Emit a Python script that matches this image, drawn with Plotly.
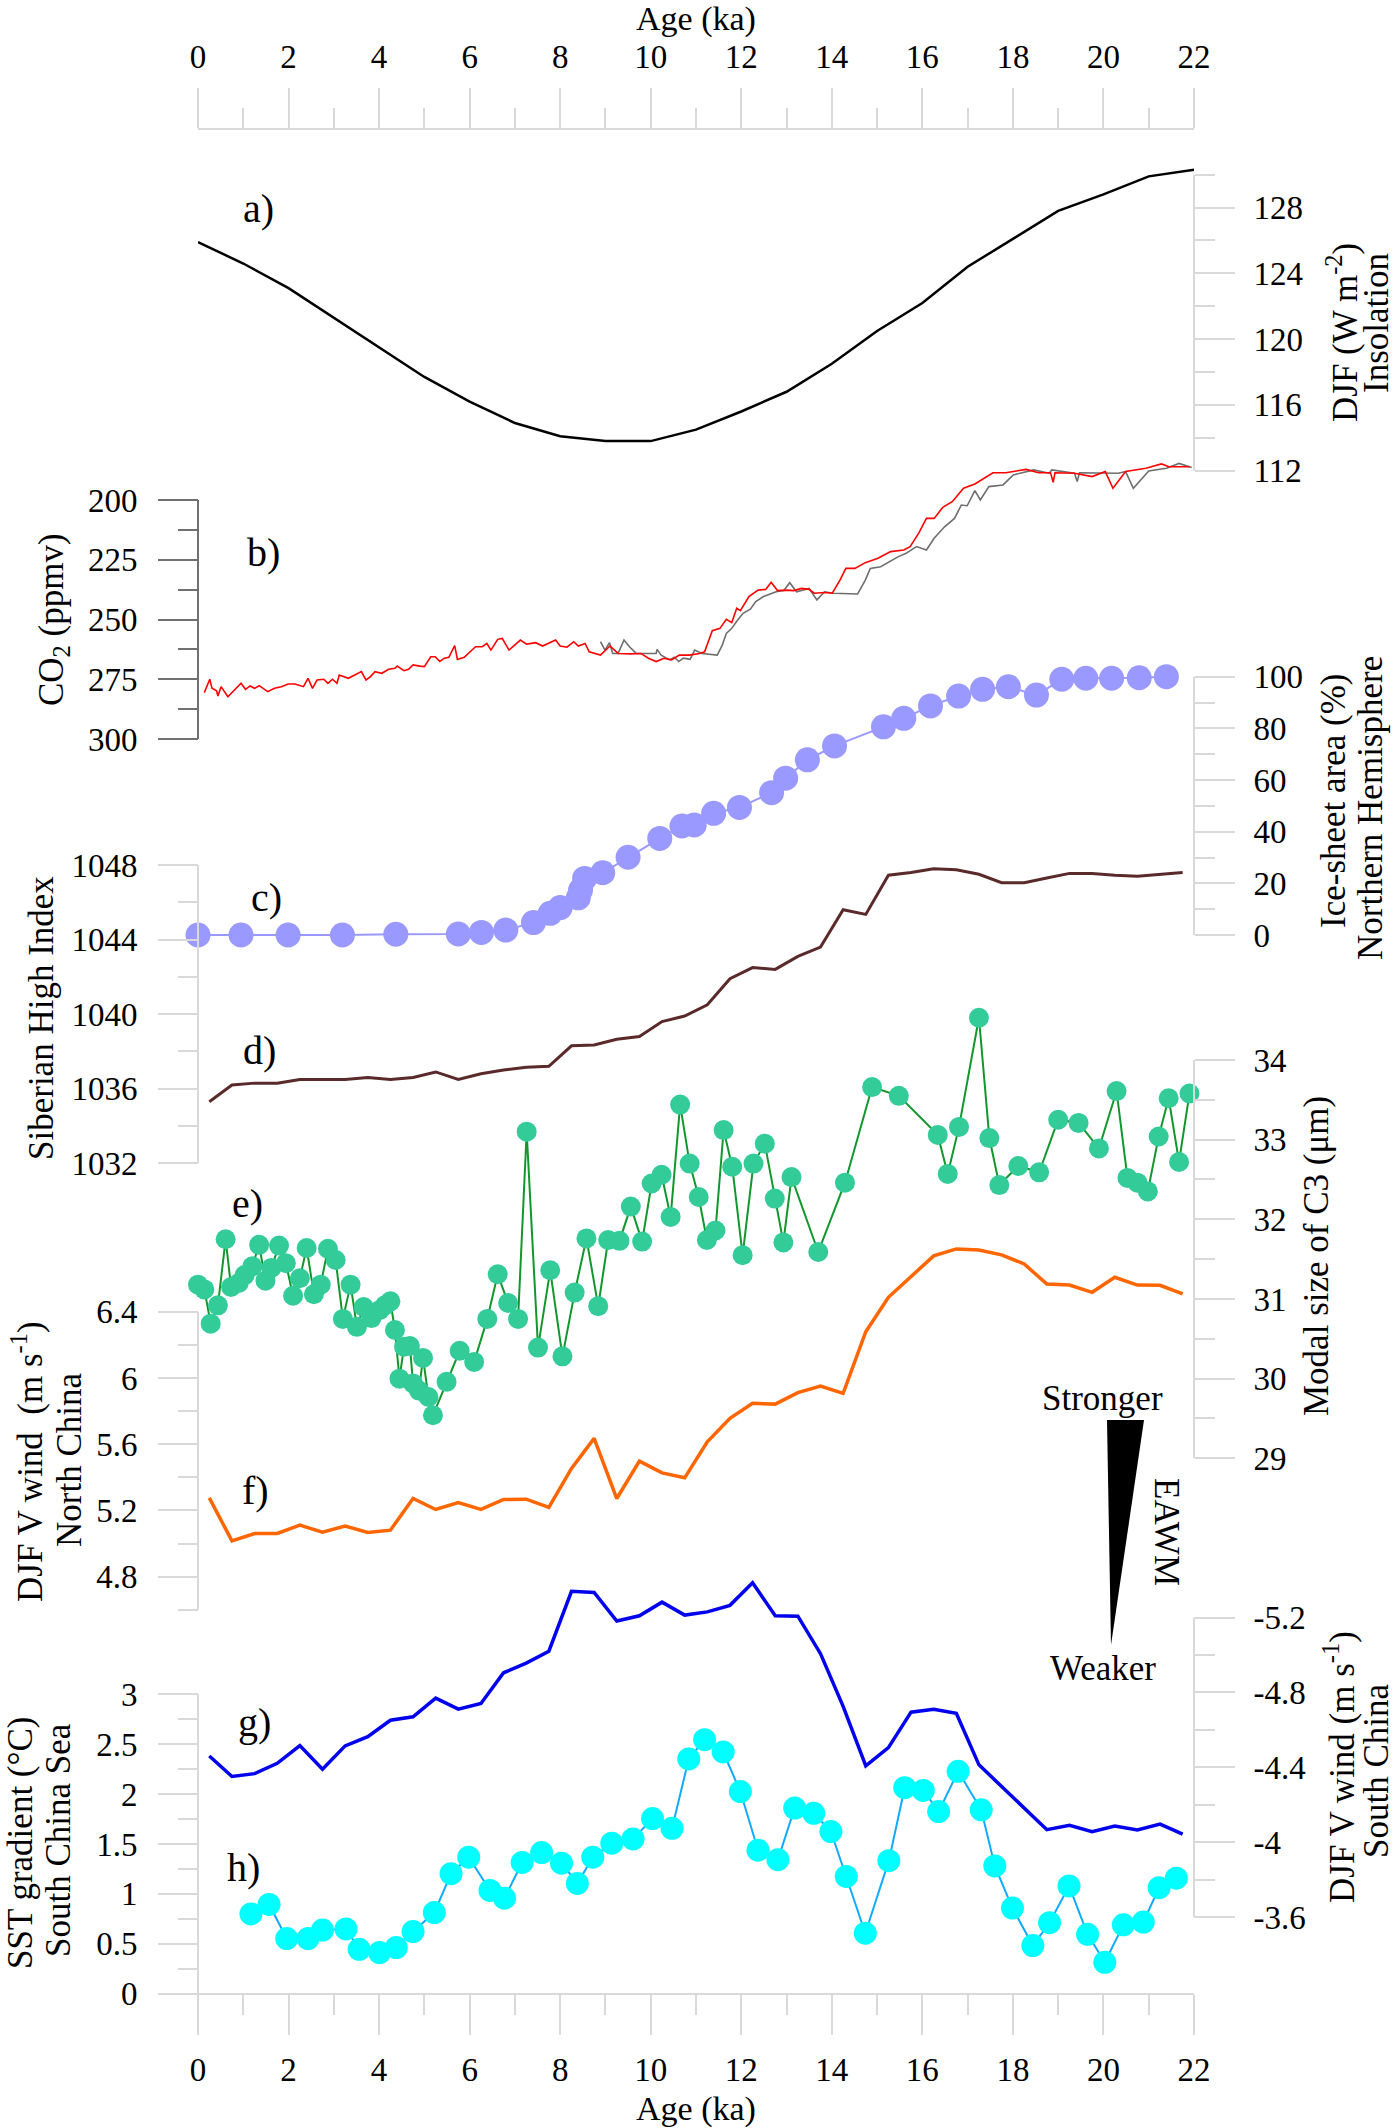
import plotly.graph_objects as go

# ---------------- data ----------------
insol_age = [0, 1, 2, 3, 4, 5, 6, 7, 8, 9, 10, 11, 12, 13, 14, 15, 16, 17, 18, 19, 20, 21, 22]
insol_val = [125.9, 124.6, 123.1, 121.3, 119.5, 117.7, 116.2, 114.9, 114.1, 113.8, 113.8, 114.5,
             115.6, 116.8, 118.5, 120.5, 122.2, 124.4, 126.1, 127.8, 128.8, 129.9, 130.3]

co2_red_age = [0.14, 0.26, 0.31, 0.41, 0.44, 0.51, 0.66, 0.80, 0.95, 1.05,
               1.15, 1.25, 1.35, 1.54, 1.69, 1.84, 1.99, 2.14, 2.33, 2.43,
               2.53, 2.63, 2.78, 2.87, 2.97, 3.07, 3.12, 3.32, 3.47, 3.61,
               3.71, 3.81, 3.91, 4.06, 4.21, 4.35, 4.40, 4.55, 4.65, 4.75,
               4.90, 5.00, 5.14, 5.24, 5.34, 5.44, 5.54, 5.67, 5.73, 5.88,
               6.13, 6.28, 6.38, 6.47, 6.62, 6.72, 6.87, 7.12, 7.26, 7.46,
               7.61, 7.90, 8.00, 8.15, 8.30, 8.40, 8.55, 8.64, 8.89, 9.10,
               9.28, 9.56, 9.78, 9.95, 10.12, 10.29, 10.46, 10.63, 10.85, 11.08,
               11.19, 11.27, 11.36, 11.53, 11.67, 11.79, 11.90, 11.98, 12.17, 12.37,
               12.54, 12.66, 12.80, 12.99, 13.16, 13.33, 13.50, 13.61, 13.84, 14.01,
               14.18, 14.31, 14.51, 14.74, 15.02, 15.30, 15.59, 15.73, 15.92, 16.09,
               16.26, 16.45, 16.66, 16.91, 17.16, 17.56, 17.84, 18.29, 18.57, 18.83,
               18.89, 18.93, 19.36, 19.75, 20.04, 20.21, 20.49, 20.94, 21.28, 21.45,
               21.90]
co2_red_val = [280.6, 275.0, 278.8, 279.8, 282.0, 278.1, 282.3, 279.8, 276.7, 279.2,
               277.8, 278.8, 277.7, 280.2, 278.8, 278.1, 277.0, 277.0, 278.1, 274.6,
               278.8, 275.3, 275.0, 276.7, 275.0, 276.7, 273.2, 274.6, 273.2, 271.8,
               275.3, 273.9, 271.8, 272.5, 270.8, 270.4, 269.5, 271.4, 270.8, 269.0,
               269.5, 269.7, 265.6, 265.6, 267.6, 266.2, 265.8, 260.9, 266.7, 265.8,
               261.4, 261.4, 260.0, 262.8, 258.3, 257.9, 262.8, 258.6, 260.3, 259.7,
               261.1, 258.6, 261.1, 261.6, 259.3, 261.1, 260.0, 263.5, 264.9, 261.1,
               264.2, 264.4, 264.2, 266.2, 267.6, 266.2, 266.9, 264.9, 264.9, 264.2,
               263.5, 259.3, 254.7, 253.7, 249.9, 251.3, 245.3, 246.3, 240.4, 237.7,
               237.4, 234.4, 237.9, 237.7, 237.9, 237.0, 237.4, 239.0, 238.7, 239.0,
               233.5, 228.6, 228.6, 226.2, 224.4, 221.6, 220.9, 219.5, 213.9, 207.7,
               207.7, 203.1, 200.7, 195.1, 193.3, 188.6, 188.6, 187.2, 188.6, 188.6,
               192.6, 188.6, 188.8, 190.2, 188.1, 195.1, 188.1, 186.7, 184.9, 186.1,
               186.1]

co2_gray_age = [8.89, 8.99, 9.09, 9.16, 9.28, 9.41, 9.53, 9.68, 10.12, 10.14,
                10.23, 10.42, 10.52, 10.62, 10.72, 10.87, 10.97, 11.13, 11.47, 11.58,
                11.67, 11.79, 11.92, 12.04, 12.20, 12.32, 12.49, 12.77, 12.94, 13.07,
                13.22, 13.50, 13.67, 13.84, 14.04, 14.57, 14.74, 14.85, 15.08, 15.28,
                15.47, 15.64, 15.87, 16.09, 16.26, 16.49, 16.71, 16.86, 16.99, 17.16,
                17.28, 17.47, 17.78, 18.01, 18.46, 18.80, 18.86, 19.36, 19.42, 19.47,
                20.32, 20.49, 20.66, 21.00, 21.39, 21.67, 21.95]
co2_gray_val = [259.3, 262.8, 259.7, 264.2, 264.2, 258.6, 261.4, 264.2, 264.2, 262.5,
                264.9, 266.9, 265.8, 267.6, 266.2, 266.7, 262.8, 264.2, 264.9, 260.7,
                255.8, 253.7, 250.2, 247.4, 245.7, 242.5, 240.4, 238.4, 237.9, 234.6,
                238.4, 237.0, 241.8, 238.4, 239.0, 239.3, 233.5, 228.6, 227.9, 225.8,
                223.7, 222.3, 219.5, 220.9, 216.0, 211.2, 207.7, 202.1, 202.4, 196.1,
                200.0, 194.4, 193.7, 189.5, 187.4, 188.8, 187.4, 188.8, 192.3, 188.6,
                188.8, 188.1, 195.1, 187.9, 186.7, 184.7, 186.4]

ice_age = [0.0, 0.95, 1.99, 3.19, 4.37, 5.75, 6.26, 6.8, 7.41, 7.78,
           8.0, 8.4, 8.45, 8.54, 8.94, 9.5, 10.2, 10.69, 10.96, 11.39,
           11.96, 12.67, 12.98, 13.46, 14.06, 15.14, 15.59, 16.18, 16.8, 17.33,
           17.9, 18.52, 19.08, 19.61, 20.18, 20.79, 21.39]
ice_val = [0.0, 0.0, 0.0, 0.0, 0.3, 0.4, 1.0, 1.9, 4.8, 8.4,
           10.6, 14.4, 17.4, 21.9, 24.1, 30.1, 37.4, 42.2, 42.6, 47.1,
           49.4, 55.1, 60.7, 67.8, 73.2, 80.6, 83.9, 88.7, 92.5, 95.1,
           96.1, 92.9, 99.0, 99.4, 99.4, 99.6, 100.0]

model_age = [0.25, 0.75, 1.25, 1.75, 2.25, 2.75, 3.25, 3.75, 4.25, 4.75,
             5.25, 5.75, 6.25, 6.75, 7.25, 7.75, 8.25, 8.75, 9.25, 9.75,
             10.25, 10.75, 11.25, 11.75, 12.25, 12.75, 13.25, 13.75, 14.25, 14.75,
             15.25, 15.75, 16.25, 16.75, 17.25, 17.75, 18.25, 18.75, 19.25, 19.75,
             20.25, 20.75, 21.25, 21.75]
sh_val = [1035.3, 1036.2, 1036.3, 1036.3, 1036.5, 1036.5, 1036.5, 1036.6, 1036.5, 1036.6,
          1036.9, 1036.5, 1036.8, 1037.0, 1037.15, 1037.2, 1038.3, 1038.35, 1038.65, 1038.8,
          1039.6, 1039.9, 1040.5, 1041.9, 1042.5, 1042.4, 1043.1, 1043.6, 1045.6, 1045.35,
          1047.45, 1047.6, 1047.8, 1047.75, 1047.5, 1047.05, 1047.05, 1047.3, 1047.55, 1047.55,
          1047.45, 1047.4, 1047.5, 1047.6]
nc_wind = [5.276, 5.016, 5.061, 5.061, 5.111, 5.069, 5.105, 5.067, 5.081, 5.272,
           5.206, 5.248, 5.206, 5.266, 5.268, 5.218, 5.454, 5.635, 5.272, 5.498,
           5.427, 5.397, 5.614, 5.756, 5.847, 5.842, 5.911, 5.951, 5.907, 6.279,
           6.487, 6.611, 6.737, 6.779, 6.773, 6.743, 6.688, 6.567, 6.561, 6.517,
           6.608, 6.561, 6.559, 6.507]
sc_wind = [-4.461, -4.352, -4.367, -4.422, -4.517, -4.39, -4.515, -4.564, -4.652, -4.67,
           -4.77, -4.711, -4.741, -4.905, -4.957, -5.02, -5.34, -5.334, -5.181, -5.209,
           -5.282, -5.213, -5.23, -5.265, -5.385, -5.209, -5.207, -5.007, -4.726, -4.409,
           -4.506, -4.695, -4.711, -4.689, -4.414, -4.297, -4.18, -4.068, -4.091, -4.057,
           -4.087, -4.066, -4.098, -4.044]

c3_age = [0.0, 0.14, 0.28, 0.44, 0.61, 0.73, 0.9, 1.03, 1.2, 1.35,
          1.49, 1.62, 1.79, 1.94, 2.1, 2.25, 2.4, 2.56, 2.71, 2.87,
          3.04, 3.2, 3.37, 3.51, 3.66, 3.83, 4.01, 4.13, 4.25, 4.35,
          4.45, 4.55, 4.68, 4.75, 4.88, 4.97, 5.09, 5.19, 5.49, 5.78,
          6.1, 6.39, 6.62, 6.85, 7.07, 7.26, 7.51, 7.78, 8.05, 8.32,
          8.58, 8.84, 9.06, 9.31, 9.56, 9.81, 10.02, 10.24, 10.44, 10.65,
          10.86, 11.06, 11.24, 11.43, 11.61, 11.8, 12.03, 12.27, 12.52, 12.74,
          12.93, 13.11, 13.7, 14.29, 14.89, 15.48, 16.34, 16.56, 16.81, 17.25,
          17.48, 17.7, 18.12, 18.58, 19.0, 19.45, 19.9, 20.29, 20.53, 20.75,
          20.98, 21.22, 21.44, 21.67, 21.9]
c3_val = [31.18, 31.12, 30.69, 30.92, 31.75, 31.15, 31.2, 31.3, 31.41, 31.68,
          31.23, 31.39, 31.67, 31.45, 31.04, 31.26, 31.64, 31.06, 31.18, 31.63,
          31.49, 30.75, 31.18, 30.65, 30.9, 30.76, 30.86, 30.92, 30.97, 30.61,
          30.0, 30.4, 30.41, 29.94, 29.85, 30.26, 29.77, 29.54, 29.96, 30.35,
          30.21, 30.75, 31.31, 30.95, 30.75, 33.1, 30.39, 31.36, 30.28, 31.08,
          31.76, 30.91, 31.74, 31.73, 32.16, 31.72, 32.45, 32.56, 32.03, 33.44,
          32.7, 32.28, 31.74, 31.86, 33.12, 32.66, 31.55, 32.7, 32.95, 32.26,
          31.71, 32.53, 31.59, 32.46, 33.66, 33.55, 33.06, 32.57, 33.16, 34.53,
          33.02, 32.43, 32.67, 32.59, 33.25, 33.21, 32.89, 33.61, 32.52, 32.46,
          32.35, 33.04, 33.52, 32.72, 33.58]

sst_age = [1.17, 1.57, 1.96, 2.43, 2.75, 3.27, 3.56, 4.01, 4.38, 4.75,
           5.22, 5.59, 5.98, 6.45, 6.77, 7.16, 7.59, 8.03, 8.38, 8.72,
           9.14, 9.61, 10.04, 10.47, 10.84, 11.19, 11.6, 11.98, 12.37, 12.81,
           13.18, 13.6, 13.98, 14.32, 14.74, 15.26, 15.61, 16.02, 16.36, 16.79,
           17.3, 17.6, 17.99, 18.44, 18.81, 19.24, 19.65, 20.03, 20.44, 20.88,
           21.23, 21.61]
sst_val = [0.80, 0.895, 0.554, 0.554, 0.639, 0.65, 0.446, 0.414, 0.463, 0.624,
           0.814, 1.203, 1.368, 1.035, 0.958, 1.315, 1.414, 1.308, 1.105, 1.368,
           1.508, 1.55, 1.754, 1.656, 2.35, 2.543, 2.42, 2.024, 1.438, 1.343,
           1.859, 1.807, 1.624, 1.175, 0.607, 1.333, 2.063, 2.035, 1.824, 2.227,
           1.842, 1.28, 0.859, 0.484, 0.712, 1.08, 0.596, 0.316, 0.691, 0.719,
           1.063, 1.158]

age_ticks = [0, 2, 4, 6, 8, 10, 12, 14, 16, 18, 20, 22]
age_minor = [1, 3, 5, 7, 9, 11, 13, 15, 17, 19, 21]

# ---------------- layout helpers ----------------
W, H = 1400, 2128
XL, XR = 198, 1194          # pixel positions of age 0 and 22
FONT = "Liberation Serif, Times New Roman, serif"
LIGHT = "#d9d9d9"
DARK = "#707070"
TICK_SIZE = 33
TITLE_SIZE = 35


def fx(px):
    return px / W


def fy(py):
    return 1 - py / H


def span(v1, p1, v2, p2):
    k = (v2 - v1) / (p2 - p1)
    return [v1 + (H - p1) * k, v1 + (0 - p1) * k]


axes = {
    "y":  dict(anch=(112, 470.7, 128, 207.6), side="right",
               major=[112, 116, 120, 124, 128], minor=[114, 118, 122, 126, 130],
               line=(112, 130), col=LIGHT),
    "y2": dict(anch=(200, 500, 300, 739), side="left",
               major=[200, 225, 250, 275, 300], minor=[212.5, 237.5, 262.5, 287.5],
               line=(200, 300), col=DARK),
    "y3": dict(anch=(0, 935, 100, 676.7), side="right",
               major=[0, 20, 40, 60, 80, 100], minor=[10, 30, 50, 70, 90],
               line=(0, 100), col=LIGHT),
    "y4": dict(anch=(1032, 1163.3, 1048, 865), side="left",
               major=[1032, 1036, 1040, 1044, 1048], minor=[1034, 1038, 1042, 1046],
               line=(1032, 1048), col=LIGHT),
    "y5": dict(anch=(29, 1458.3, 34, 1060), side="right",
               major=[29, 30, 31, 32, 33, 34], minor=[29.5, 30.5, 31.5, 32.5, 33.5],
               line=(29, 34), col=LIGHT),
    "y6": dict(anch=(4.8, 1576.7, 6.4, 1311.7), side="left",
               major=[4.8, 5.2, 5.6, 6.0, 6.4], minor=[4.6, 5.0, 5.4, 5.8, 6.2],
               labels=["4.8", "5.2", "5.6", "6", "6.4"],
               line=(4.6, 6.4), col=LIGHT),
    "y7": dict(anch=(-5.2, 1617.5, -3.6, 1917.4), side="right",
               major=[-5.2, -4.8, -4.4, -4.0, -3.6], minor=[-5.0, -4.6, -4.2, -3.8],
               labels=["-5.2", "-4.8", "-4.4", "-4", "-3.6"],
               line=(-5.2, -3.6), col=LIGHT),
    "y8": dict(anch=(0, 1993.9, 3, 1694), side="left",
               major=[0, 0.5, 1, 1.5, 2, 2.5, 3], minor=[0.25, 0.75, 1.25, 1.75, 2.25, 2.75],
               labels=["0", "0.5", "1", "1.5", "2", "2.5", "3"],
               line=(0, 3), col=LIGHT),
}

fig = go.Figure()

# ---------------- traces ----------------
fig.add_trace(go.Scatter(x=insol_age, y=insol_val, mode="lines", yaxis="y",
                         line=dict(color="black", width=2.5)))
fig.add_trace(go.Scatter(x=co2_gray_age, y=co2_gray_val, mode="lines", yaxis="y2",
                         line=dict(color="#6e6e6e", width=1.6)))
fig.add_trace(go.Scatter(x=co2_red_age, y=co2_red_val, mode="lines", yaxis="y2",
                         line=dict(color="#ff0000", width=1.6)))
fig.add_trace(go.Scatter(x=ice_age, y=ice_val, mode="lines+markers", yaxis="y3",
                         line=dict(color="#9999ff", width=2),
                         marker=dict(color="#9999ff", size=25), cliponaxis=False))
fig.add_trace(go.Scatter(x=model_age, y=sh_val, mode="lines", yaxis="y4",
                         line=dict(color="#5a2a2a", width=3)))
fig.add_trace(go.Scatter(x=c3_age, y=c3_val, mode="lines+markers", yaxis="y5",
                         line=dict(color="#12962e", width=2),
                         marker=dict(color="#33cc99", size=20), cliponaxis=False))
fig.add_trace(go.Scatter(x=model_age, y=nc_wind, mode="lines", yaxis="y6",
                         line=dict(color="#ff6600", width=3.5)))
fig.add_trace(go.Scatter(x=model_age, y=sc_wind, mode="lines", yaxis="y7",
                         line=dict(color="#0000ee", width=3.5)))
fig.add_trace(go.Scatter(x=sst_age, y=sst_val, mode="lines+markers", yaxis="y8",
                         line=dict(color="#11aaff", width=2),
                         marker=dict(color="#00ffff", size=23), cliponaxis=False))
# empty trace that carries the top age axis
fig.add_trace(go.Scatter(x=[None], y=[None], xaxis="x2", yaxis="y", mode="markers"))

# ---------------- axes ----------------
def xcommon(standoff):
    return dict(range=[0, 22], showgrid=False, zeroline=False, showline=True,
                linecolor=LIGHT, linewidth=2, ticks="outside", ticklen=40, tickwidth=2,
                tickcolor=LIGHT, tickvals=age_ticks, automargin=False,
                tickfont=dict(size=TICK_SIZE, color="black", family=FONT),
                ticklabelstandoff=standoff,
                minor=dict(tickvals=age_minor, ticks="outside", ticklen=20, tickwidth=2,
                           tickcolor=LIGHT, showgrid=False),
                fixedrange=True)


layout = dict(
    template="none",
    width=W, height=H, margin=dict(l=0, r=0, t=0, b=0, pad=0, autoexpand=False),
    paper_bgcolor="white", plot_bgcolor="rgba(0,0,0,0)", showlegend=False,
    font=dict(family=FONT, color="black"),
    xaxis=dict(domain=[fx(XL), fx(XR)], anchor="free", position=fy(1993.9),
               side="bottom", **xcommon(6)),
    xaxis2=dict(overlaying="x", anchor="free", position=fy(129), side="top", **xcommon(7)),
)

shapes = []
for name, spec in axes.items():
    v1, p1, v2, p2 = spec["anch"]
    key = "yaxis" if name == "y" else "yaxis" + name[1:]
    left = spec["side"] == "left"
    xpos = fx(XL) if left else fx(XR)
    ax = dict(domain=[0, 1], range=span(v1, p1, v2, p2), anchor="free",
              position=xpos, side=spec["side"], automargin=False,
              showgrid=False, zeroline=False, showline=False,
              ticks="outside", ticklen=40, tickwidth=2, tickcolor=spec["col"],
              tickvals=spec["major"],
              ticktext=spec.get("labels", [str(v) for v in spec["major"]]),
              tickfont=dict(size=TICK_SIZE, color="black", family=FONT),
              ticklabelstandoff=14 if left else 12,
              minor=dict(tickvals=spec["minor"], ticks="outside", ticklen=20, tickwidth=2,
                         tickcolor=spec["col"], showgrid=False),
              fixedrange=True)
    if name != "y":
        ax["overlaying"] = "y"
    layout[key] = ax
    shapes.append(dict(type="line", xref="paper", yref=name, x0=xpos, x1=xpos,
                       y0=spec["line"][0], y1=spec["line"][1],
                       line=dict(color=spec["col"], width=2), layer="above"))

# EAWM wedge
shapes.append(dict(type="path", xref="paper", yref="paper",
                   path=f"M {fx(1107)} {fy(1420)} L {fx(1144)} {fy(1420)} L {fx(1111)} {fy(1645)} Z",
                   fillcolor="black", line=dict(width=0)))

layout["shapes"] = shapes


def ann(text, px, py, size, angle=0):
    return dict(text=text, x=fx(px), y=fy(py), xref="paper", yref="paper",
                xanchor="center", yanchor="middle", showarrow=False, textangle=angle,
                font=dict(size=size, family=FONT, color="black"))


annotations = [
    ann("Age (ka)", 696, 19, 34),
    ann("Age (ka)", 696, 2109, 34),
    ann("a)", 258, 208, 40), ann("b)", 263, 552, 40), ann("c)", 266, 897, 40),
    ann("d)", 259, 1050, 40), ann("e)", 247, 1203, 40), ann("f)", 255, 1490, 40),
    ann("g)", 254, 1722, 40), ann("h)", 243, 1867, 40),
    ann("DJF (W m<sup>-2</sup>)", 1342, 333, TITLE_SIZE, -90),
    ann("Insolation", 1376, 323, TITLE_SIZE, -90),
    ann("CO<sub>2</sub> (ppmv)", 54, 620, TITLE_SIZE, -90),
    ann("Ice-sheet area (%)", 1333, 801, TITLE_SIZE, -90),
    ann("Northern Hemisphere", 1370, 808, TITLE_SIZE, -90),
    ann("Siberian High Index", 42, 1018, TITLE_SIZE, -90),
    ann("Modal size of C3 (μm)", 1316, 1256, TITLE_SIZE, -90),
    ann("DJF V wind  (m s<sup>-1</sup>)", 27, 1462, TITLE_SIZE, -90),
    ann("North China", 69, 1460, TITLE_SIZE, -90),
    ann("DJF V wind (m s<sup>-1</sup>)", 1339, 1767, TITLE_SIZE, -90),
    ann("South China", 1376, 1771, TITLE_SIZE, -90),
    ann("SST gradient (°C)", 20, 1843, TITLE_SIZE, -90),
    ann("South China Sea", 58, 1840, TITLE_SIZE, -90),
    ann("Stronger", 1102, 1398, TITLE_SIZE),
    ann("Weaker", 1103, 1668, TITLE_SIZE),
    ann("EAWM", 1167, 1532, TITLE_SIZE, 90),
]
layout["annotations"] = annotations

fig.update_layout(**layout)
fig.write_html("out.html")
